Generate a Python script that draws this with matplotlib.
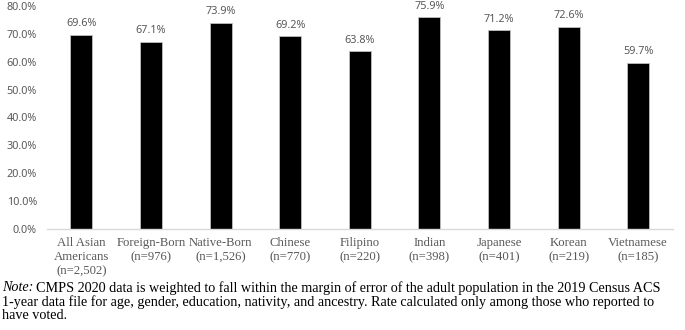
import matplotlib
matplotlib.use("Agg")
import matplotlib.pyplot as plt
from matplotlib.ticker import FuncFormatter, MultipleLocator

categories = ["All Asian\nAmericans\n(n=2,502)", "Foreign-Born\n(n=976)", "Native-Born\n(n=1,526)",
              "Chinese\n(n=770)", "Filipino\n(n=220)", "Indian\n(n=398)", "Japanese\n(n=401)",
              "Korean\n(n=219)", "Vietnamese\n(n=185)"]
values = [69.6, 67.1, 73.9, 69.2, 63.8, 75.9, 71.2, 72.6, 59.7]

fig = plt.figure(figsize=(6.85, 3.3), dpi=100)
ax = fig.add_axes([0.068, 0.306, 0.9145, 0.676])

x = list(range(len(categories)))
ax.bar(x, values, width=0.316, color="black", edgecolor="#bfbfbf", linewidth=0.6)
ax.set_xlim(-0.5, len(categories) - 0.5)
ax.set_ylim(0, 80)
ax.yaxis.set_major_locator(MultipleLocator(10))
ax.yaxis.set_major_formatter(FuncFormatter(lambda v, p: f"{v:.1f}%"))

for s in ["top", "right", "left"]:
    ax.spines[s].set_visible(False)
ax.spines["bottom"].set_color("#d9d9d9")
ax.spines["bottom"].set_linewidth(1.0)
ax.tick_params(axis="both", length=0)
ax.tick_params(axis="y", labelsize=7.8, labelcolor="#595959", pad=7)
for lab in ax.get_yticklabels():
    lab.set_fontfamily("Noto Sans")

ax.set_xticks(x)
ax.set_xticklabels(categories, fontfamily="Liberation Serif", fontsize=9.2, color="#595959",
                   linespacing=1.2)
ax.tick_params(axis="x", pad=6)

for xi, v in zip(x, values):
    ax.annotate(f"{v:.1f}%", (xi, v), xytext=(0, 4), textcoords="offset points",
                ha="center", va="bottom", fontsize=7.8, color="#595959", fontfamily="Noto Sans")

note_y = 1 - 281 / 330
t1 = fig.text(0.003, note_y, "Note:", fontsize=10.2, fontfamily="Liberation Serif",
              style="italic", va="top", ha="left")
fig.canvas.draw()
r = fig.canvas.get_renderer()
w = t1.get_window_extent(r).width
fig.text(0.003 + (w + 3) / fig.bbox.width, note_y,
         "CMPS 2020 data is weighted to fall within the margin of error of the adult population in the 2019 Census ACS",
         fontsize=10.2, fontfamily="Liberation Serif", va="top", ha="left")
fig.text(0.003, note_y - 14.5 / 330,
         "1-year data file for age, gender, education, nativity, and ancestry. Rate calculated only among those who reported to\n"
         "have voted.",
         fontsize=10.2, fontfamily="Liberation Serif", va="top", ha="left", linespacing=1.0)

fig.savefig("out.png", dpi=100)
